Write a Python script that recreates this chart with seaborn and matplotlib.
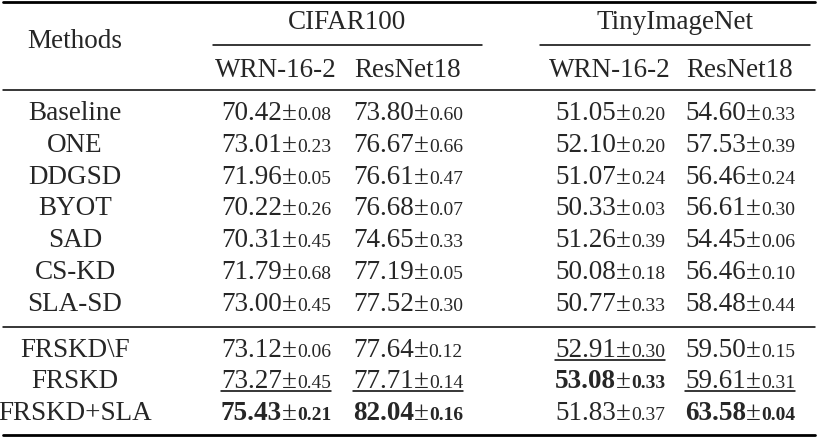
import matplotlib
matplotlib.use("Agg")
import matplotlib.pyplot as plt
import seaborn as sns

sns.set_theme(style="white")
plt.rcParams['font.family'] = ['Liberation Serif', 'DejaVu Serif']

methods = ["Baseline", "ONE", "DDGSD", "BYOT", "SAD", "CS-KD", "SLA-SD",
           "FRSKD\\F", "FRSKD", "FRSKD+SLA"]
cifar_wrn = ["70.42", "73.01", "71.96", "70.22", "70.31", "71.79", "73.00", "73.12", "73.27", "75.43"]
cifar_wrn_sd = ["0.08", "0.23", "0.05", "0.26", "0.45", "0.68", "0.45", "0.06", "0.45", "0.21"]
cifar_res = ["73.80", "76.67", "76.61", "76.68", "74.65", "77.19", "77.52", "77.64", "77.71", "82.04"]
cifar_res_sd = ["0.60", "0.66", "0.47", "0.07", "0.33", "0.05", "0.30", "0.12", "0.14", "0.16"]
tiny_wrn = ["51.05", "52.10", "51.07", "50.33", "51.26", "50.08", "50.77", "52.91", "53.08", "51.83"]
tiny_wrn_sd = ["0.20", "0.20", "0.24", "0.03", "0.39", "0.18", "0.33", "0.30", "0.33", "0.37"]
tiny_res = ["54.60", "57.53", "56.46", "56.61", "54.45", "56.46", "58.48", "59.50", "59.61", "63.58"]
tiny_res_sd = ["0.33", "0.39", "0.24", "0.30", "0.06", "0.10", "0.44", "0.15", "0.31", "0.04"]
# best (bold) / second best (underline) row index per column
bold = [9, 9, 8, 9]
under = [8, 8, 7, 8]

cols = [(cifar_wrn, cifar_wrn_sd), (cifar_res, cifar_res_sd),
        (tiny_wrn, tiny_wrn_sd), (tiny_res, tiny_res_sd)]
col_x = [276, 408, 610, 740]
row_y = [113, 145, 177, 208, 240, 272, 304, 350, 381, 413]

fig = plt.figure(figsize=(8.18, 4.39), dpi=100)
ax = fig.add_axes([0, 0, 1, 1])
ax.set_xlim(0, 818)
ax.set_ylim(439, 0)
ax.axis("off")
fig.canvas.draw()
r = fig.canvas.get_renderer()

FS, FS2 = 19.5, 14
OFF = 7

ax.text(75, 41 + OFF, "Methods", fontsize=FS, ha="center", va="baseline")
ax.text(347, 22 + OFF, "CIFAR100", fontsize=FS, ha="center", va="baseline")
ax.text(675, 22 + OFF, "TinyImageNet", fontsize=FS, ha="center", va="baseline")
for x, lab in zip(col_x, ["WRN-16-2", "ResNet18", "WRN-16-2", "ResNet18"]):
    ax.text(x, 70 + OFF, lab, fontsize=FS, ha="center", va="baseline")

for y, m in zip(row_y, methods):
    ax.text(75, y + OFF, m, fontsize=FS, ha="center", va="baseline")

for ci, ((vals, sds), x) in enumerate(zip(cols, col_x)):
    for ri, (v, s) in enumerate(zip(vals, sds)):
        y = row_y[ri]
        w = "bold" if ri == bold[ci] else "normal"
        t1 = ax.text(0, y, v, fontsize=FS, ha="left", va="baseline", fontweight=w)
        t2 = ax.text(0, y, "\u00b1", fontsize=FS, ha="left", va="baseline")
        t3 = ax.text(0, y, s, fontsize=FS2, ha="left", va="baseline", fontweight=w)
        ws = [t.get_window_extent(r).width for t in (t1, t2, t3)]
        total = sum(ws)
        x0 = x - total / 2
        yb = y + OFF
        t1.set_position((x0, yb))
        t2.set_position((x0 + ws[0], yb))
        t3.set_position((x0 + ws[0] + ws[1], yb))
        if ri == under[ci]:
            ax.plot([x0, x0 + total], [yb + 4, yb + 4], color="black", lw=1.1)

ax.plot([3, 815], [3, 3], color="black", lw=2.0)
ax.plot([213, 482], [46, 46], color="black", lw=1.1)
ax.plot([540, 810], [46, 46], color="black", lw=1.1)
ax.plot([3, 815], [91, 91], color="black", lw=1.1)
ax.plot([3, 815], [328, 328], color="black", lw=1.1)
ax.plot([3, 815], [436, 436], color="black", lw=2.0)

fig.savefig("out.png", dpi=100)
